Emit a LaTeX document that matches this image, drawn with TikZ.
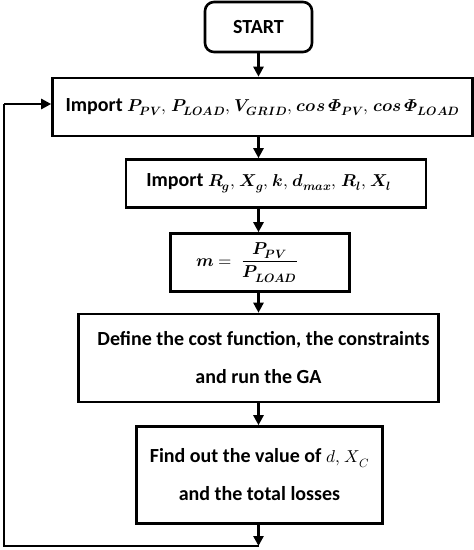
\documentclass[tikz,border=0pt]{standalone}
\usepackage{fontspec}
\usepackage{unicode-math}
\setmainfont{Carlito}
\setmathfont{Latin Modern Math}[Scale=0.86]
\usetikzlibrary{arrows.meta}
\newcommand{\B}[1]{\symbfit{#1}}
\newcommand{\cm}{,\mskip2mu}
\tikzset{
  box/.style={draw, line width=2.6pt, inner sep=0pt, align=center,
    font=\fontsize{20}{38}\selectfont\bfseries},
  arr/.style={line width=2.6pt, -{Triangle[length=10pt,width=10pt]}},
  loopline/.style={line width=2.6pt}
}
\begin{document}
\begin{tikzpicture}[x=1pt,y=-1pt]
\useasboundingbox (0,0) rectangle (474,550);
\node[box, rounded corners=9pt, minimum width=107pt, minimum height=50pt] (start) at (258.5,27) {START};
\node[box, minimum width=420pt, minimum height=58pt] (b1) at (262.5,107)
  {Import $\B{P}_{\B{PV}}\cm \B{P}_{\B{LOAD}}\cm \B{V}_{\B{GRID}}\cm \B{cos}\,\B{\Phi}_{\B{PV}}\cm \B{cos}\,\B{\Phi}_{\B{LOAD}}$};
\node[box, minimum width=300pt, minimum height=48pt] (b2) at (276,183.5)
  {Import $\B{R}_{\B{g}}\cm \B{X}_{\B{g}}\cm \B{k}\cm \B{d}_{\B{max}}\cm \B{R}_{\B{l}}\cm \B{X}_{\B{l}}$\hspace*{14pt}};
\node[box, minimum width=179pt, minimum height=58pt] (b3) at (260,262.5)
  {$\B{m} = \;\dfrac{\B{P}_{\B{PV}}}{\B{P}_{\B{LOAD}}}$\hspace*{26pt}};
\node[box, minimum width=360pt, minimum height=88pt] (b4) at (258.5,358)
  {\hspace*{10pt}Define the cost function, the constraints\\and run the GA};
\node[box, minimum width=246pt, minimum height=97pt] (b5) at (259.5,475)
  {Find out the value of $d\cm X_{C}$\\and the total losses};
\coordinate (c1) at (258.5,546);
\coordinate (c2) at (4,104);
\draw[arr] (start.south) -- (start.south |- b1.north);
\draw[arr] (b1.south -| start.south) -- (b2.north -| start.south);
\draw[arr] (b2.south -| start.south) -- (b3.north -| start.south);
\draw[arr] (b3.south -| start.south) -- (b4.north -| start.south);
\draw[arr] (b4.south -| start.south) -- (b5.north -| start.south);
\draw[arr] (b5.south -| start.south) -- (c1);
\draw[loopline] (c1) -| (c2);
\draw[arr] (c2) -- (c2 -| b1.west);
\end{tikzpicture}
\end{document}
